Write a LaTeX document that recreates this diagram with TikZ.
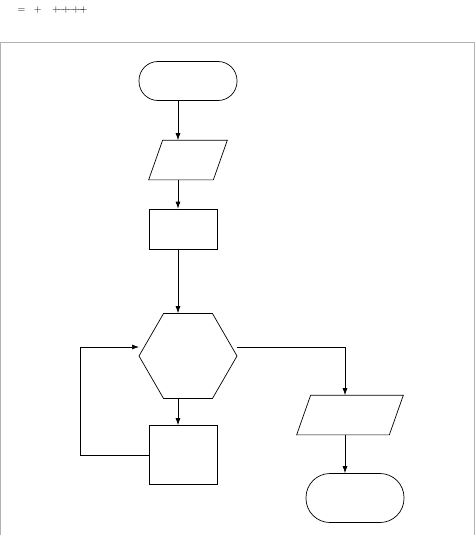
\documentclass[tikz,border=0pt]{standalone}
\usetikzlibrary{arrows.meta,shapes.geometric}
\begin{document}
\begin{tikzpicture}[x=1pt,y=-1pt, line width=0.7pt,
  term/.style={draw, rounded corners=19pt, minimum width=98pt, minimum height=39pt, inner sep=0},
  io/.style={minimum width=64pt, minimum height=39pt, inner sep=0},
  proc/.style={draw, minimum width=68pt, inner sep=0},
  hex/.style={draw, regular polygon, regular polygon sides=6, minimum size=98pt, inner sep=0},
  arr/.style={-{Latex[length=7pt,width=5pt]}}]
\useasboundingbox (0,0) rectangle (474,535);
\node[anchor=west] (title) at (14,10) {$=\;\;+\;\;\;+\!\!\!-\!\!\!+\!\!\!-\!\!\!+\!\!\!-\!\!\!+$};
\draw[gray!60, line width=0.5pt] (0,42) rectangle (474,535);

% main column
\node[term] (start) at (188,81) {};
\node[io] (input) at (188,160) {};
\draw ([xshift=-7pt]input.south west) -- ([xshift=7pt]input.north west)
   -- ([xshift=7pt]input.north east) -- ([xshift=-7pt]input.south east) -- cycle;
\node[proc, minimum height=40pt] (init) at (183,229) {};
\node[hex] (loop) at (188,356) {};
\node[proc, minimum height=59pt] (body) at (183,455) {};

% right branch
\node[io, minimum width=92pt] (output) at (350,415) {};
\draw ([xshift=-7pt]output.south west) -- ([xshift=7pt]output.north west)
   -- ([xshift=7pt]output.north east) -- ([xshift=-7pt]output.south east) -- cycle;
\node[term, rounded corners=24pt, minimum height=49pt] (stop) at (355,498) {};

\coordinate (axis) at (178,0);
\coordinate (side) at (345,0);
\coordinate (back) at (80,0);
\coordinate (in) at (139,347);

\draw[arr] (start.south -| axis) -- (input.north -| axis);
\draw[arr] (input.south -| axis) -- (init.north -| axis);
\draw[arr] (init.south -| axis) -- (loop.north -| axis);
\draw[arr] (loop.south -| axis) -- (body.north -| axis);
\draw[arr] (body.west |- 0,455) -- (back |- 0,455) -- (back |- in) -- (in);
\draw[arr] (loop.east |- in) -- (side |- in) -- (output.north -| side);
\draw[arr] (output.south -| side) -- (stop.north -| side);
\end{tikzpicture}
\end{document}
